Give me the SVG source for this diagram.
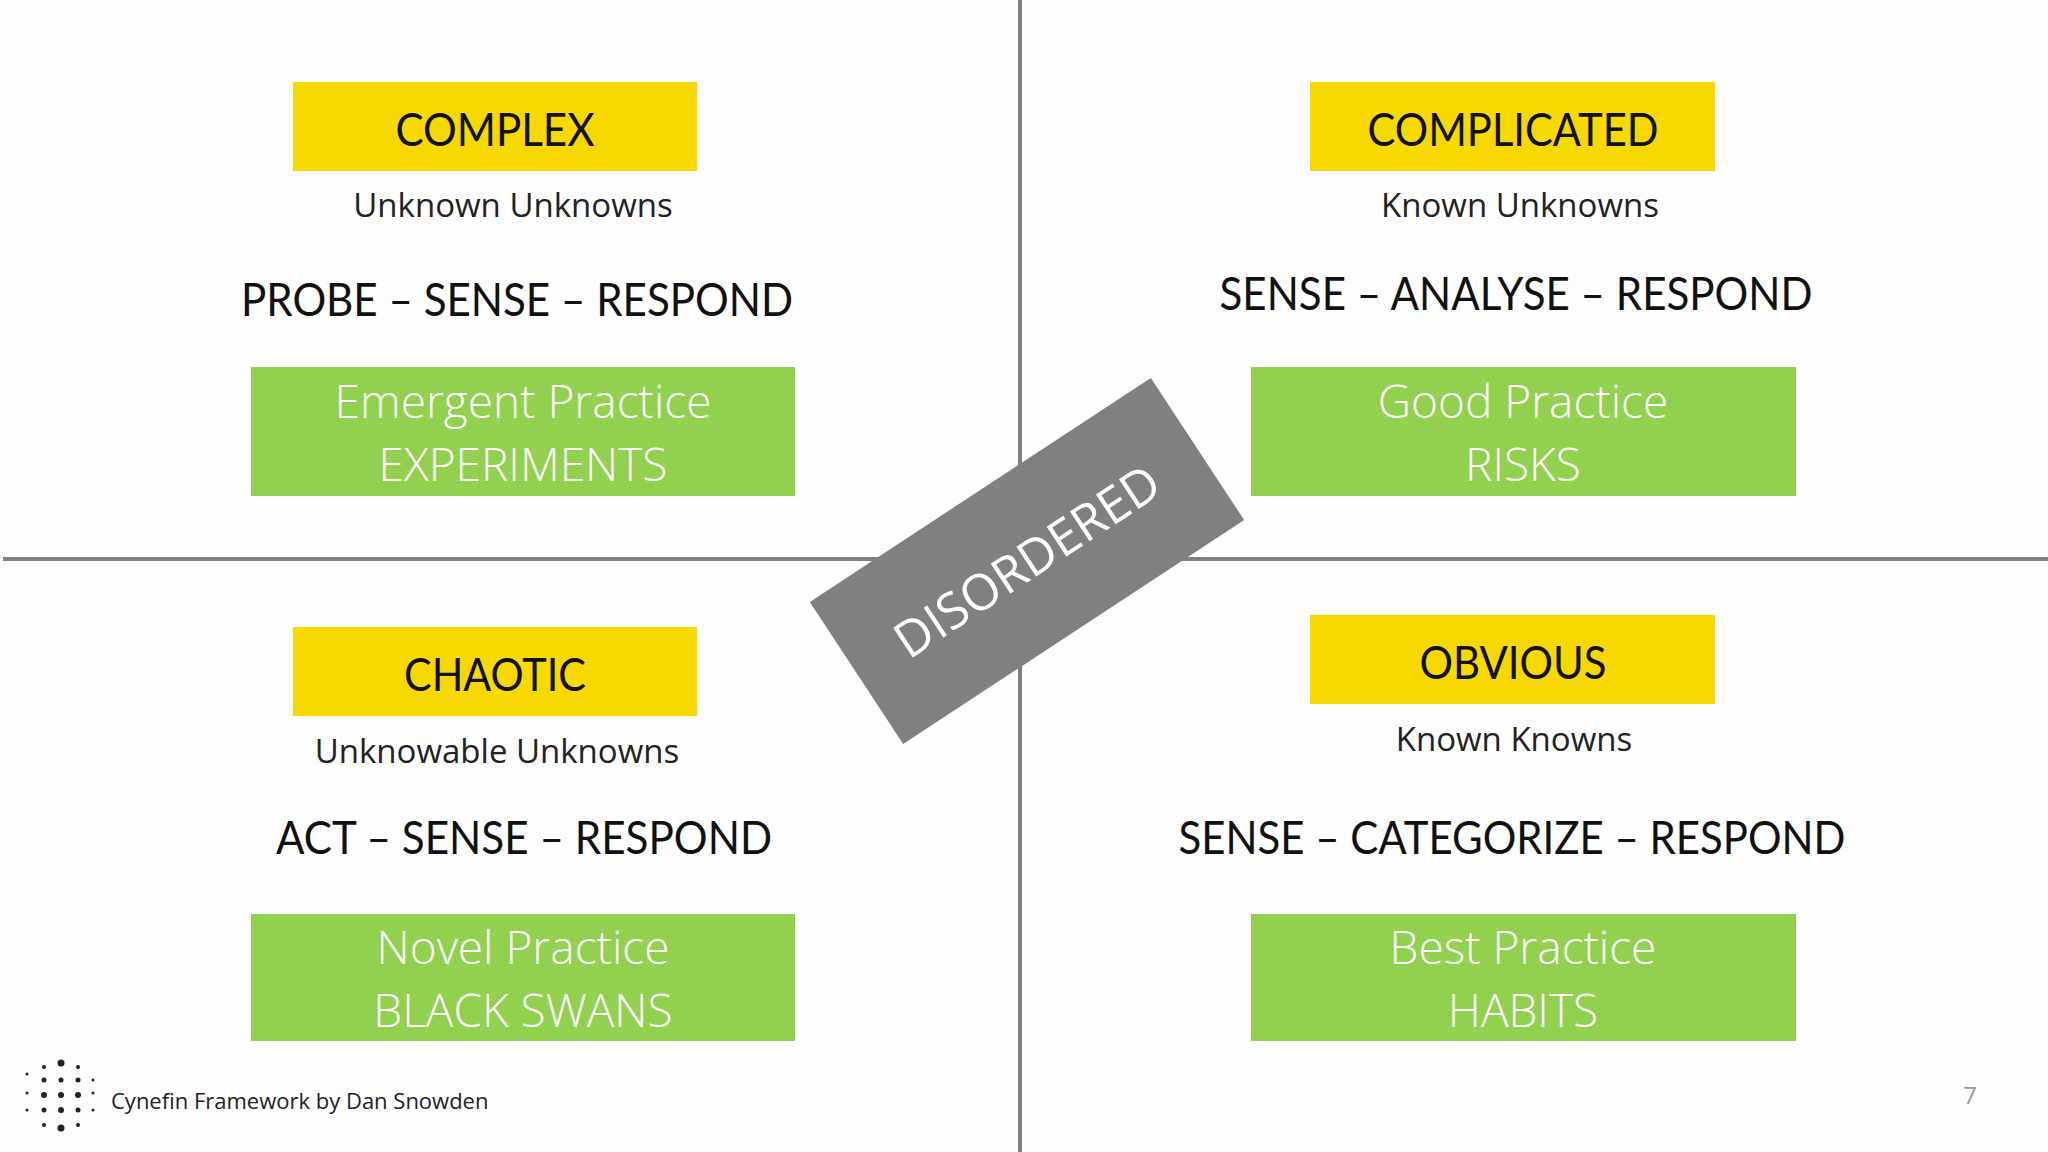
<svg xmlns="http://www.w3.org/2000/svg" width="2048" height="1152" viewBox="0 0 2048 1152">
<style>
.y{fill:#f7d800}.g{fill:#92d050}
.h{font-family:Lato,"Liberation Sans",sans-serif;font-size:47px;fill:#111;text-anchor:middle}
.s{font-family:"Open Sans","Liberation Sans",sans-serif;font-size:33px;fill:#222;text-anchor:middle}
.w{font-family:"Open Sans","Liberation Sans",sans-serif;font-weight:300;font-size:46px;fill:#fff;text-anchor:middle}
.ln{stroke:#7f7f7f;stroke-width:4}
</style>
<rect width="2048" height="1152" fill="#fdfdfd"/>
<g id="connectors">
<line class="ln" x1="1020" y1="0" x2="1020" y2="1152"/>
<line class="ln" x1="3" y1="559" x2="2048" y2="559"/>
</g>
<g id="complex">
<rect class="y" x="293" y="82" width="404" height="89"/>
<text class="h" x="495" y="146" textLength="199" lengthAdjust="spacingAndGlyphs">COMPLEX</text>
<text class="s" x="513" y="217">Unknown Unknowns</text>
<text class="h" x="517" y="316" textLength="552" lengthAdjust="spacingAndGlyphs">PROBE – SENSE – RESPOND</text>
<rect class="g" x="251" y="367" width="544" height="129"/>
<text class="w" x="523" y="418">Emergent Practice</text>
<text class="w" x="523" y="481">EXPERIMENTS</text>
</g>
<g id="complicated">
<rect class="y" x="1310" y="82" width="405" height="89"/>
<text class="h" x="1513" y="146" textLength="291" lengthAdjust="spacingAndGlyphs">COMPLICATED</text>
<text class="s" x="1520" y="217">Known Unknowns</text>
<text class="h" x="1516" y="310" textLength="593" lengthAdjust="spacingAndGlyphs">SENSE – ANALYSE – RESPOND</text>
<rect class="g" x="1251" y="367" width="545" height="129"/>
<text class="w" x="1523" y="418">Good Practice</text>
<text class="w" x="1523" y="481">RISKS</text>
</g>
<g id="chaotic">
<rect class="y" x="293" y="627" width="404" height="89"/>
<text class="h" x="495" y="691" textLength="182" lengthAdjust="spacingAndGlyphs">CHAOTIC</text>
<text class="s" x="497" y="763">Unknowable Unknowns</text>
<text class="h" x="524" y="854" textLength="496" lengthAdjust="spacingAndGlyphs">ACT – SENSE – RESPOND</text>
<rect class="g" x="251" y="914" width="544" height="127"/>
<text class="w" x="523" y="964">Novel Practice</text>
<text class="w" x="523" y="1027">BLACK SWANS</text>
</g>
<g id="obvious">
<rect class="y" x="1310" y="615" width="405" height="89"/>
<text class="h" x="1513" y="679" textLength="187" lengthAdjust="spacingAndGlyphs">OBVIOUS</text>
<text class="s" x="1514" y="751">Known Knowns</text>
<text class="h" x="1512" y="854" textLength="667" lengthAdjust="spacingAndGlyphs">SENSE – CATEGORIZE – RESPOND</text>
<rect class="g" x="1251" y="914" width="545" height="127"/>
<text class="w" x="1523" y="964">Best Practice</text>
<text class="w" x="1523" y="1027">HABITS</text>
</g>
<g id="disordered" transform="translate(1027,561) rotate(-33.3)">
<rect x="-204" y="-85" width="408" height="170" fill="#808080"/>
<text x="0" y="18" font-family="'Open Sans','Liberation Sans',sans-serif" font-size="50" fill="#fff" text-anchor="middle">DISORDERED</text>
</g>
<g id="footer" fill="#222">
<circle cx="61" cy="1063" r="3.5"/><circle cx="44" cy="1067" r="2"/><circle cx="78" cy="1067" r="2"/>
<circle cx="27" cy="1074" r="1.5"/><circle cx="44" cy="1080" r="2.5"/><circle cx="61" cy="1080" r="2.5"/><circle cx="78" cy="1080" r="2.5"/><circle cx="93" cy="1080" r="1.5"/>
<circle cx="27" cy="1093" r="1.5"/><circle cx="44" cy="1095" r="3"/><circle cx="61" cy="1095" r="3"/><circle cx="78" cy="1095" r="3"/><circle cx="93" cy="1093" r="1.5"/>
<circle cx="27" cy="1110" r="1.5"/><circle cx="44" cy="1110" r="2.5"/><circle cx="61" cy="1110" r="3"/><circle cx="78" cy="1110" r="2.5"/><circle cx="93" cy="1110" r="1.5"/>
<circle cx="44" cy="1125" r="2"/><circle cx="61" cy="1128" r="3.5"/><circle cx="78" cy="1125" r="2"/>
<text x="111" y="1109" font-family="'Open Sans','Liberation Sans',sans-serif" font-size="22">Cynefin Framework by Dan Snowden</text>
<text x="1970" y="1104" font-family="'Open Sans','Liberation Sans',sans-serif" font-size="24" fill="#999" text-anchor="middle">7</text>
</g>
</svg>
